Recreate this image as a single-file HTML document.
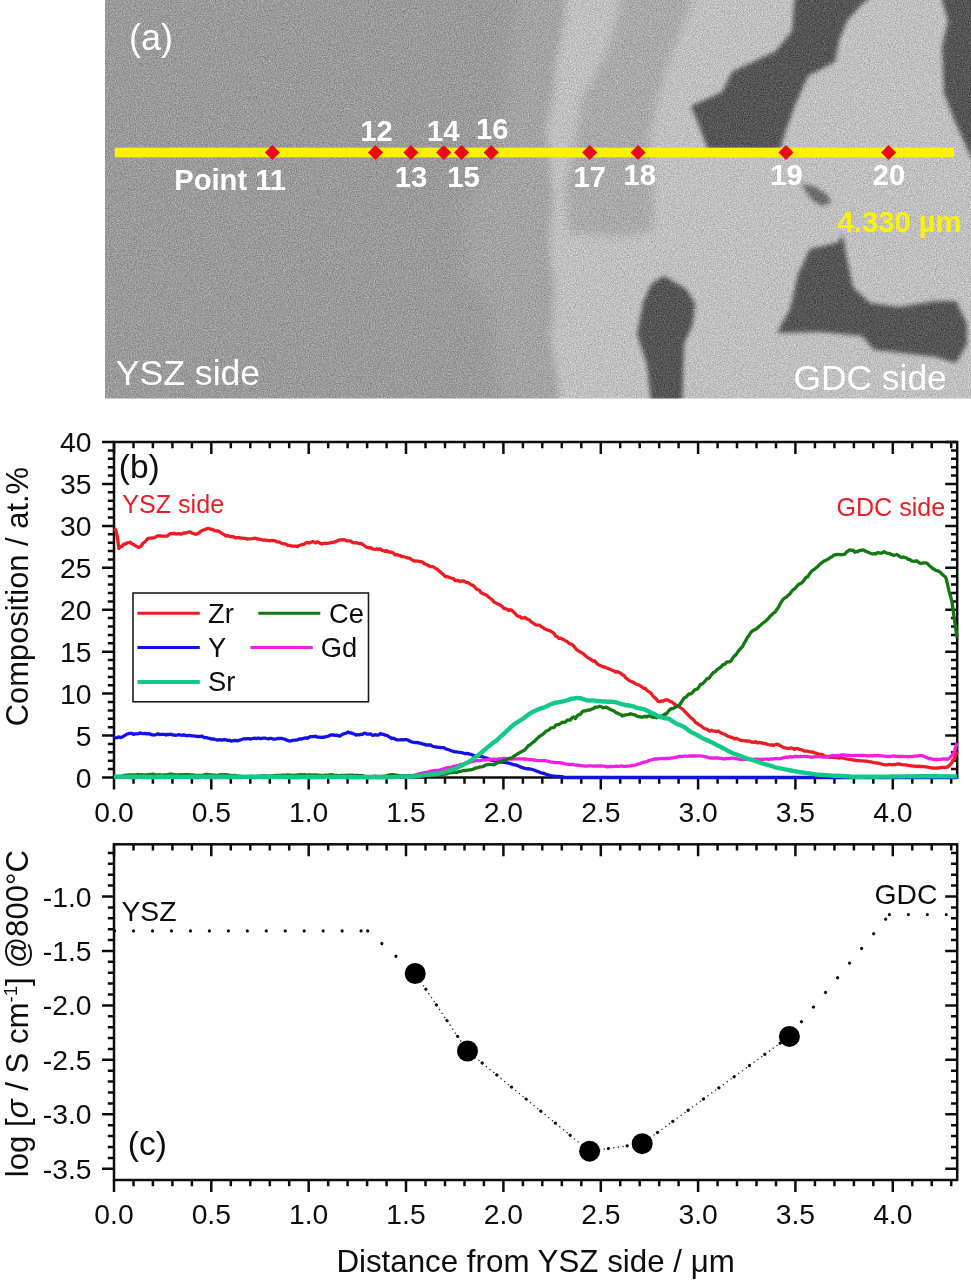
<!DOCTYPE html>
<html lang="en"><head><meta charset="utf-8"><title>Figure: line scan across YSZ/GDC interface</title>
<style>html,body{margin:0;padding:0;background:#fff}svg{display:block}text{font-family:"Liberation Sans", Arial, sans-serif}</style>
</head><body>
<svg width="971" height="1280" viewBox="0 0 971 1280">
<rect width="971" height="1280" fill="#fff"/>
<defs>
<filter id="sem" x="0" y="0" width="100%" height="100%" filterUnits="objectBoundingBox" color-interpolation-filters="sRGB"><feGaussianBlur in="SourceGraphic" stdDeviation="2.0" result="b"/><feTurbulence type="fractalNoise" baseFrequency="0.85" numOctaves="3" seed="4" result="n"/><feColorMatrix in="n" type="matrix" values="1 0 0 0 0 1 0 0 0 0 1 0 0 0 0 0 0 0 0 1" result="g"/><feComposite in="b" in2="g" operator="arithmetic" k1="0" k2="1" k3="0.40" k4="-0.20"/></filter>
<filter id="soft8" x="-20%" y="-20%" width="140%" height="140%"><feGaussianBlur stdDeviation="9"/></filter>
<filter id="soft4" x="-20%" y="-20%" width="140%" height="140%"><feGaussianBlur stdDeviation="4.5"/></filter>
<filter id="soft3" x="-20%" y="-20%" width="140%" height="140%"><feGaussianBlur stdDeviation="3"/></filter>
<clipPath id="semclip"><rect x="105.0" y="0.0" width="866.0" height="398.6"/></clipPath>
</defs>
<g clip-path="url(#semclip)">
<g filter="url(#sem)">
<rect x="85" y="-20" width="920" height="440" fill="#9a9a9a"/>
<g filter="url(#soft8)">
<polygon fill="#a3a3a3" points="515,-20 580,-20 570,100 565,150 565,230 570,300 570,420 498,420 490,300 465,282 462,200 490,170 505,100"/>
</g>
<g filter="url(#soft3)">
<polygon fill="#c0c0c0" points="568,-20 1000,-20 1000,420 560,420 557,380 551,340 554,290 549,240 553,200 549,160 546,130 552,100 556,62 562,30"/>
</g>
<g filter="url(#soft4)">
<polygon fill="#a9a9a9" points="624,-20 700,-20 678,37 668,64 658,99 648,148 653,187 653,232 610,236 568,232 566,190 574,148 582,99 602,62 616,25"/>
</g>
<polygon fill="#555555" points="796,-20 892,-20 862,4 847,21 839,41 835,62 808,76 796,103 786,130 781,147 779,150 708,150 700,128 691,106 722,92 732,72 776,51 792,31"/>
<polygon fill="#555555" points="940,-20 1000,-20 1000,190 971,157 956,124 944,93 942,47 948,21 942,0"/>
<polygon fill="#555555" points="843,235 846,254 853,287 870,303 899,307 936,301 956,301 967,324 967,344 956,363 936,357 895,352 874,350 862,336 822,332 777,333 790,309 798,274 810,249 837,243"/>
<polygon fill="#555555" points="664,276 686,289 695,303 693,324 684,344 682,420 653,420 647,365 637,334 643,303 651,284"/>
<polygon fill="#6a6a6a" points="802,183 815,187 828,195 831,203 822,206 812,200 806,192"/>
</g>
<rect x="114.8" y="147.7" width="839.2" height="9.6" fill="#fff200"/>
<polygon fill="#ea0c12" points="264.8,152.5 272.4,144.9 280.0,152.5 272.4,160.1"/>
<polygon fill="#ea0c12" points="367.9,152.5 375.5,144.9 383.1,152.5 375.5,160.1"/>
<polygon fill="#ea0c12" points="403.3,152.5 410.9,144.9 418.5,152.5 410.9,160.1"/>
<polygon fill="#ea0c12" points="436.1,152.5 443.7,144.9 451.3,152.5 443.7,160.1"/>
<polygon fill="#ea0c12" points="454.0,152.5 461.6,144.9 469.2,152.5 461.6,160.1"/>
<polygon fill="#ea0c12" points="483.6,152.5 491.2,144.9 498.8,152.5 491.2,160.1"/>
<polygon fill="#ea0c12" points="582.1,152.5 589.7,144.9 597.3,152.5 589.7,160.1"/>
<polygon fill="#ea0c12" points="630.5,152.5 638.1,144.9 645.7,152.5 638.1,160.1"/>
<polygon fill="#ea0c12" points="778.4,152.5 786.0,144.9 793.6,152.5 786.0,160.1"/>
<polygon fill="#ea0c12" points="881.0,152.5 888.6,144.9 896.2,152.5 888.6,160.1"/>
</g>
<text x="174.2" y="189.6" font-size="29.2" fill="#fff" text-anchor="start" font-weight="bold">Point 11</text>
<text x="376.4" y="141.2" font-size="29.2" fill="#fff" text-anchor="middle" font-weight="bold">12</text>
<text x="443.3" y="140.8" font-size="29.2" fill="#fff" text-anchor="middle" font-weight="bold">14</text>
<text x="492.2" y="139.2" font-size="29.2" fill="#fff" text-anchor="middle" font-weight="bold">16</text>
<text x="411.0" y="186.8" font-size="29.2" fill="#fff" text-anchor="middle" font-weight="bold">13</text>
<text x="463.5" y="186.8" font-size="29.2" fill="#fff" text-anchor="middle" font-weight="bold">15</text>
<text x="589.7" y="186.6" font-size="29.2" fill="#fff" text-anchor="middle" font-weight="bold">17</text>
<text x="639.7" y="184.6" font-size="29.2" fill="#fff" text-anchor="middle" font-weight="bold">18</text>
<text x="786.5" y="185.4" font-size="29.2" fill="#fff" text-anchor="middle" font-weight="bold">19</text>
<text x="889.0" y="185.4" font-size="29.2" fill="#fff" text-anchor="middle" font-weight="bold">20</text>
<text x="961.5" y="232.0" font-size="29.2" fill="#fff200" text-anchor="end" font-weight="bold">4.330 µm</text>
<text x="129.0" y="50.0" font-size="36.0" fill="#fff" text-anchor="start" font-weight="normal">(a)</text>
<text x="115.8" y="384.6" font-size="35.6" fill="#fff" text-anchor="start" font-weight="normal">YSZ side</text>
<text x="946.8" y="389.5" font-size="35.4" fill="#fff" text-anchor="end" font-weight="normal">GDC side</text>
<clipPath id="clipb"><rect x="112.0" y="442.0" width="847.2" height="338.5"/></clipPath>
<rect x="114.0" y="442.0" width="843.2" height="335.5" fill="none" stroke="#0d0d0d" stroke-width="2.5"/>
<path d="M114.0 777.5v12.0M114.0 442.0v12.0M133.5 777.5v6.2M133.5 442.0v6.2M152.9 777.5v6.2M152.9 442.0v6.2M172.4 777.5v6.2M172.4 442.0v6.2M191.9 777.5v6.2M191.9 442.0v6.2M211.3 777.5v12.0M211.3 442.0v12.0M230.8 777.5v6.2M230.8 442.0v6.2M250.3 777.5v6.2M250.3 442.0v6.2M269.8 777.5v6.2M269.8 442.0v6.2M289.2 777.5v6.2M289.2 442.0v6.2M308.7 777.5v12.0M308.7 442.0v12.0M328.2 777.5v6.2M328.2 442.0v6.2M347.6 777.5v6.2M347.6 442.0v6.2M367.1 777.5v6.2M367.1 442.0v6.2M386.6 777.5v6.2M386.6 442.0v6.2M406.0 777.5v12.0M406.0 442.0v12.0M425.5 777.5v6.2M425.5 442.0v6.2M445.0 777.5v6.2M445.0 442.0v6.2M464.5 777.5v6.2M464.5 442.0v6.2M483.9 777.5v6.2M483.9 442.0v6.2M503.4 777.5v12.0M503.4 442.0v12.0M522.9 777.5v6.2M522.9 442.0v6.2M542.3 777.5v6.2M542.3 442.0v6.2M561.8 777.5v6.2M561.8 442.0v6.2M581.3 777.5v6.2M581.3 442.0v6.2M600.8 777.5v12.0M600.8 442.0v12.0M620.2 777.5v6.2M620.2 442.0v6.2M639.7 777.5v6.2M639.7 442.0v6.2M659.2 777.5v6.2M659.2 442.0v6.2M678.6 777.5v6.2M678.6 442.0v6.2M698.1 777.5v12.0M698.1 442.0v12.0M717.6 777.5v6.2M717.6 442.0v6.2M737.0 777.5v6.2M737.0 442.0v6.2M756.5 777.5v6.2M756.5 442.0v6.2M776.0 777.5v6.2M776.0 442.0v6.2M795.4 777.5v12.0M795.4 442.0v12.0M814.9 777.5v6.2M814.9 442.0v6.2M834.4 777.5v6.2M834.4 442.0v6.2M853.9 777.5v6.2M853.9 442.0v6.2M873.3 777.5v6.2M873.3 442.0v6.2M892.8 777.5v12.0M892.8 442.0v12.0M912.3 777.5v6.2M912.3 442.0v6.2M931.7 777.5v6.2M931.7 442.0v6.2M951.2 777.5v6.2M951.2 442.0v6.2M114.0 777.5h-12.0M957.2 777.5h-12.0M114.0 735.6h-12.0M957.2 735.6h-12.0M114.0 693.6h-12.0M957.2 693.6h-12.0M114.0 651.7h-12.0M957.2 651.7h-12.0M114.0 609.8h-12.0M957.2 609.8h-12.0M114.0 567.8h-12.0M957.2 567.8h-12.0M114.0 525.9h-12.0M957.2 525.9h-12.0M114.0 483.9h-12.0M957.2 483.9h-12.0M114.0 442.0h-12.0M957.2 442.0h-12.0M114.0 769.1h-6.2M957.2 769.1h-6.2M114.0 760.7h-6.2M957.2 760.7h-6.2M114.0 752.3h-6.2M957.2 752.3h-6.2M114.0 744.0h-6.2M957.2 744.0h-6.2M114.0 727.2h-6.2M957.2 727.2h-6.2M114.0 718.8h-6.2M957.2 718.8h-6.2M114.0 710.4h-6.2M957.2 710.4h-6.2M114.0 702.0h-6.2M957.2 702.0h-6.2M114.0 685.2h-6.2M957.2 685.2h-6.2M114.0 676.9h-6.2M957.2 676.9h-6.2M114.0 668.5h-6.2M957.2 668.5h-6.2M114.0 660.1h-6.2M957.2 660.1h-6.2M114.0 643.3h-6.2M957.2 643.3h-6.2M114.0 634.9h-6.2M957.2 634.9h-6.2M114.0 626.5h-6.2M957.2 626.5h-6.2M114.0 618.1h-6.2M957.2 618.1h-6.2M114.0 601.4h-6.2M957.2 601.4h-6.2M114.0 593.0h-6.2M957.2 593.0h-6.2M114.0 584.6h-6.2M957.2 584.6h-6.2M114.0 576.2h-6.2M957.2 576.2h-6.2M114.0 559.4h-6.2M957.2 559.4h-6.2M114.0 551.0h-6.2M957.2 551.0h-6.2M114.0 542.7h-6.2M957.2 542.7h-6.2M114.0 534.3h-6.2M957.2 534.3h-6.2M114.0 517.5h-6.2M957.2 517.5h-6.2M114.0 509.1h-6.2M957.2 509.1h-6.2M114.0 500.7h-6.2M957.2 500.7h-6.2M114.0 492.3h-6.2M957.2 492.3h-6.2M114.0 475.6h-6.2M957.2 475.6h-6.2M114.0 467.2h-6.2M957.2 467.2h-6.2M114.0 458.8h-6.2M957.2 458.8h-6.2M114.0 450.4h-6.2M957.2 450.4h-6.2" fill="none" stroke="#0d0d0d" stroke-width="2.5"/>
<g clip-path="url(#clipb)" fill="none" stroke-linejoin="round" stroke-linecap="butt">
<path d="M114.0 528.6L115.6 529.8L117.2 535.9L118.9 548.5L120.5 546.5L122.1 546.3L123.7 544.1L125.4 544.0L127.0 543.0L128.6 542.7L130.2 542.2L131.9 543.8L133.5 544.4L135.1 545.6L136.7 546.4L138.4 547.3L140.0 547.0L141.6 545.5L143.2 543.0L144.9 541.8L146.5 540.0L148.1 538.4L149.7 538.1L151.4 538.1L153.0 537.9L154.6 537.7L156.2 536.5L157.9 535.9L159.5 535.9L161.1 536.0L162.7 536.2L164.4 536.1L166.0 536.1L167.6 535.9L169.2 534.3L170.9 533.6L172.5 533.6L174.1 533.3L175.7 533.9L177.4 533.9L179.0 533.5L180.6 534.1L182.2 533.8L183.8 532.9L185.5 533.1L187.1 532.5L188.7 532.0L190.3 531.8L192.0 533.2L193.6 533.5L195.2 534.2L196.8 534.0L198.5 533.3L200.1 531.9L201.7 530.7L203.3 529.9L205.0 529.6L206.6 528.8L208.2 528.4L209.8 528.8L211.5 529.3L213.1 529.8L214.7 530.7L216.3 531.0L218.0 530.9L219.6 531.9L221.2 533.0L222.8 533.9L224.5 534.9L226.1 536.2L227.7 535.6L229.3 536.3L231.0 536.5L232.6 536.6L234.2 537.1L235.8 537.9L237.5 537.5L239.1 537.6L240.7 538.1L242.3 538.1L244.0 538.4L245.6 538.3L247.2 539.0L248.8 538.8L250.4 538.8L252.1 538.7L253.7 538.4L255.3 538.2L256.9 538.8L258.6 539.0L260.2 539.3L261.8 539.8L263.4 540.2L265.1 540.0L266.7 540.4L268.3 540.4L269.9 540.8L271.6 540.3L273.2 540.6L274.8 540.6L276.4 541.8L278.1 541.8L279.7 542.2L281.3 543.2L282.9 543.8L284.6 543.7L286.2 544.3L287.8 545.3L289.4 545.3L291.1 546.0L292.7 546.2L294.3 546.2L295.9 546.1L297.6 546.7L299.2 545.3L300.8 545.0L302.4 544.4L304.1 544.4L305.7 542.8L307.3 542.4L308.9 543.1L310.5 542.6L312.2 541.7L313.8 541.8L315.4 543.0L317.0 541.7L318.7 542.5L320.3 543.4L321.9 543.9L323.5 543.5L325.2 543.2L326.8 543.5L328.4 543.1L330.0 542.8L331.7 542.3L333.3 542.4L334.9 541.9L336.5 541.4L338.2 540.4L339.8 540.0L341.4 539.8L343.0 539.6L344.7 539.9L346.3 540.8L347.9 540.8L349.5 540.8L351.2 541.4L352.8 542.7L354.4 542.9L356.0 542.7L357.7 543.0L359.3 543.6L360.9 543.3L362.5 544.2L364.2 545.5L365.8 546.7L367.4 547.4L369.0 547.8L370.7 547.6L372.3 548.9L373.9 549.2L375.5 549.4L377.1 548.9L378.8 549.5L380.4 548.9L382.0 550.3L383.6 550.7L385.3 551.4L386.9 550.6L388.5 552.0L390.1 551.9L391.8 552.3L393.4 553.1L395.0 554.9L396.6 554.7L398.3 555.1L399.9 555.5L401.5 556.5L403.1 556.5L404.8 557.0L406.4 557.4L408.0 558.1L409.6 558.2L411.3 559.4L412.9 560.4L414.5 561.0L416.1 560.9L417.8 561.2L419.4 561.3L421.0 561.7L422.6 562.0L424.3 563.8L425.9 564.2L427.5 565.0L429.1 566.0L430.8 566.6L432.4 566.6L434.0 567.3L435.6 568.5L437.3 569.2L438.9 570.8L440.5 572.1L442.1 573.6L443.7 574.8L445.4 576.8L447.0 576.5L448.6 577.0L450.2 577.7L451.9 578.3L453.5 578.6L455.1 580.7L456.7 580.5L458.4 580.5L460.0 581.5L461.6 581.1L463.2 580.9L464.9 581.5L466.5 582.7L468.1 582.5L469.7 583.7L471.4 585.0L473.0 585.2L474.6 586.9L476.2 588.8L477.9 589.8L479.5 590.3L481.1 592.8L482.7 593.5L484.4 594.4L486.0 594.8L487.6 596.0L489.2 597.5L490.9 598.8L492.5 600.0L494.1 602.3L495.7 602.8L497.4 603.9L499.0 604.5L500.6 605.3L502.2 606.4L503.9 608.5L505.5 608.5L507.1 609.4L508.7 610.5L510.3 609.7L512.0 610.4L513.6 612.1L515.2 613.5L516.8 615.5L518.5 616.4L520.1 616.7L521.7 618.2L523.3 618.0L525.0 617.3L526.6 618.9L528.2 619.5L529.8 620.3L531.5 622.1L533.1 623.0L534.7 624.2L536.3 625.1L538.0 625.1L539.6 625.1L541.2 626.6L542.8 627.2L544.5 628.7L546.1 629.4L547.7 630.1L549.3 630.6L551.0 631.3L552.6 632.3L554.2 633.7L555.8 636.3L557.5 636.9L559.1 638.5L560.7 638.1L562.3 639.1L564.0 639.7L565.6 640.9L567.2 641.6L568.8 643.2L570.4 643.9L572.1 644.5L573.7 646.0L575.3 648.1L576.9 649.8L578.6 651.0L580.2 651.9L581.8 652.9L583.4 653.8L585.1 655.5L586.7 656.8L588.3 657.9L589.9 658.9L591.6 660.0L593.2 661.0L594.8 661.0L596.4 663.0L598.1 664.6L599.7 665.2L601.3 666.0L602.9 666.8L604.6 667.0L606.2 667.8L607.8 668.3L609.4 669.1L611.1 669.7L612.7 670.7L614.3 670.9L615.9 672.3L617.6 671.5L619.2 672.6L620.8 673.3L622.4 674.7L624.1 675.5L625.7 677.8L627.3 678.9L628.9 680.4L630.6 681.3L632.2 681.9L633.8 682.5L635.4 683.7L637.0 684.5L638.7 684.8L640.3 685.8L641.9 686.9L643.5 688.3L645.2 688.4L646.8 690.3L648.4 691.3L650.0 692.3L651.7 694.0L653.3 696.7L654.9 697.7L656.5 699.4L658.2 701.4L659.8 701.7L661.4 700.9L663.0 701.1L664.7 700.2L666.3 699.8L667.9 700.0L669.5 701.1L671.2 701.7L672.8 702.6L674.4 704.2L676.0 705.2L677.7 705.7L679.3 706.8L680.9 708.0L682.5 709.1L684.2 710.9L685.8 712.5L687.4 714.2L689.0 715.8L690.7 717.6L692.3 718.8L693.9 720.2L695.5 722.5L697.2 723.4L698.8 724.7L700.4 725.4L702.0 726.6L703.6 728.1L705.3 728.8L706.9 729.2L708.5 730.4L710.1 731.2L711.8 730.2L713.4 731.1L715.0 731.1L716.6 731.6L718.3 731.0L719.9 732.2L721.5 733.2L723.1 733.8L724.8 734.1L726.4 735.5L728.0 736.3L729.6 736.7L731.3 737.4L732.9 737.9L734.5 738.8L736.1 738.4L737.8 739.0L739.4 739.7L741.0 740.6L742.6 740.5L744.3 740.8L745.9 740.7L747.5 741.3L749.1 740.8L750.8 742.0L752.4 742.0L754.0 742.4L755.6 741.6L757.3 742.9L758.9 742.4L760.5 742.9L762.1 742.8L763.8 743.7L765.4 743.4L767.0 744.3L768.6 744.7L770.2 745.0L771.9 744.8L773.5 745.6L775.1 744.8L776.7 744.2L778.4 744.4L780.0 745.8L781.6 746.3L783.2 747.4L784.9 747.9L786.5 748.1L788.1 748.3L789.7 748.4L791.4 747.9L793.0 748.6L794.6 749.4L796.2 748.5L797.9 748.6L799.5 749.4L801.1 749.7L802.7 750.1L804.4 751.1L806.0 751.2L807.6 751.2L809.2 751.6L810.9 752.0L812.5 752.0L814.1 752.6L815.7 753.2L817.4 753.7L819.0 754.1L820.6 754.3L822.2 754.5L823.9 755.7L825.5 756.5L827.1 756.5L828.7 757.1L830.3 757.3L832.0 757.4L833.6 757.1L835.2 757.7L836.8 757.5L838.5 758.0L840.1 757.8L841.7 757.9L843.3 758.0L845.0 758.5L846.6 758.9L848.2 759.2L849.8 759.4L851.5 759.6L853.1 760.0L854.7 760.2L856.3 760.6L858.0 760.7L859.6 760.7L861.2 760.8L862.8 760.9L864.5 761.1L866.1 761.2L867.7 761.4L869.3 761.7L871.0 761.9L872.6 762.3L874.2 762.8L875.8 762.8L877.5 763.0L879.1 763.4L880.7 763.8L882.3 764.3L884.0 764.7L885.6 764.8L887.2 764.8L888.8 764.5L890.5 764.7L892.1 764.9L893.7 764.5L895.3 764.6L896.9 764.2L898.6 764.0L900.2 764.1L901.8 764.7L903.4 764.8L905.1 764.9L906.7 765.0L908.3 765.4L909.9 765.7L911.6 765.9L913.2 766.1L914.8 766.2L916.4 766.5L918.1 766.2L919.7 766.5L921.3 766.5L922.9 766.6L924.6 766.7L926.2 767.0L927.8 767.2L929.4 767.5L931.1 767.8L932.7 768.0L934.3 768.2L935.9 768.2L937.6 768.0L939.2 767.8L940.8 767.5L942.4 767.3L944.1 767.4L945.7 767.5L947.3 767.2L948.9 765.7L950.6 764.2L952.2 762.0L953.8 759.6L955.4 755.7L957.1 751.4" stroke="#ec1c24" stroke-width="3.3"/>
<path d="M114.0 737.7L115.6 737.9L117.2 737.6L118.9 736.9L120.5 737.6L122.1 737.0L123.7 736.1L125.4 735.1L127.0 734.0L128.6 733.7L130.2 733.3L131.9 733.4L133.5 734.4L135.1 733.9L136.7 733.8L138.4 733.7L140.0 732.9L141.6 733.3L143.2 733.6L144.9 733.4L146.5 733.8L148.1 733.7L149.7 733.8L151.4 734.7L153.0 735.0L154.6 734.8L156.2 734.6L157.9 733.9L159.5 734.5L161.1 734.3L162.7 734.3L164.4 734.3L166.0 735.0L167.6 734.3L169.2 734.6L170.9 734.2L172.5 734.9L174.1 735.0L175.7 735.3L177.4 735.0L179.0 734.7L180.6 735.0L182.2 735.4L183.8 734.8L185.5 735.5L187.1 735.6L188.7 735.4L190.3 735.6L192.0 735.9L193.6 735.9L195.2 736.1L196.8 736.3L198.5 736.5L200.1 736.4L201.7 736.1L203.3 736.9L205.0 737.7L206.6 737.7L208.2 738.1L209.8 738.3L211.5 739.2L213.1 738.9L214.7 739.3L216.3 739.8L218.0 740.0L219.6 739.6L221.2 740.2L222.8 739.9L224.5 739.6L226.1 739.8L227.7 740.5L229.3 740.1L231.0 741.0L232.6 740.9L234.2 740.5L235.8 740.3L237.5 740.9L239.1 740.2L240.7 739.8L242.3 739.3L244.0 738.7L245.6 739.0L247.2 738.7L248.8 738.6L250.4 739.1L252.1 738.7L253.7 738.2L255.3 738.4L256.9 738.5L258.6 738.0L260.2 738.7L261.8 738.3L263.4 738.1L265.1 738.1L266.7 738.5L268.3 738.8L269.9 738.4L271.6 738.4L273.2 739.1L274.8 739.1L276.4 738.9L278.1 738.4L279.7 738.5L281.3 738.3L282.9 738.8L284.6 739.1L286.2 739.9L287.8 740.4L289.4 741.1L291.1 740.9L292.7 740.3L294.3 740.1L295.9 740.1L297.6 739.9L299.2 739.0L300.8 739.0L302.4 738.8L304.1 738.2L305.7 737.8L307.3 738.3L308.9 737.4L310.5 736.6L312.2 736.6L313.8 736.6L315.4 736.1L317.0 737.0L318.7 737.2L320.3 737.4L321.9 737.2L323.5 737.4L325.2 736.8L326.8 736.5L328.4 736.2L330.0 735.2L331.7 735.0L333.3 734.8L334.9 735.4L336.5 735.1L338.2 735.6L339.8 736.1L341.4 735.0L343.0 734.1L344.7 733.5L346.3 733.1L347.9 732.0L349.5 732.8L351.2 732.8L352.8 733.7L354.4 734.0L356.0 735.1L357.7 734.6L359.3 734.8L360.9 734.4L362.5 734.3L364.2 733.2L365.8 733.4L367.4 734.2L369.0 734.2L370.7 733.9L372.3 735.4L373.9 735.1L375.5 734.6L377.1 735.1L378.8 734.9L380.4 733.5L382.0 734.3L383.6 734.4L385.3 735.2L386.9 735.3L388.5 736.5L390.1 737.4L391.8 738.5L393.4 738.2L395.0 739.0L396.6 739.8L398.3 739.9L399.9 739.9L401.5 739.6L403.1 739.8L404.8 739.6L406.4 739.7L408.0 740.0L409.6 741.0L411.3 741.8L412.9 742.2L414.5 742.5L416.1 742.7L417.8 742.5L419.4 743.1L421.0 743.3L422.6 744.1L424.3 744.1L425.9 745.0L427.5 745.0L429.1 745.0L430.8 745.0L432.4 746.2L434.0 746.7L435.6 747.0L437.3 747.1L438.9 747.3L440.5 747.5L442.1 747.6L443.7 747.6L445.4 748.7L447.0 749.2L448.6 749.8L450.2 750.3L451.9 751.0L453.5 751.4L455.1 751.9L456.7 751.9L458.4 752.2L460.0 752.4L461.6 752.6L463.2 753.0L464.9 753.7L466.5 753.4L468.1 753.6L469.7 754.1L471.4 754.4L473.0 755.3L474.6 755.8L476.2 756.1L477.9 756.2L479.5 756.3L481.1 756.4L482.7 756.9L484.4 757.5L486.0 757.9L487.6 758.5L489.2 759.0L490.9 760.1L492.5 760.5L494.1 761.0L495.7 761.1L497.4 761.1L499.0 761.4L500.6 762.0L502.2 762.0L503.9 762.4L505.5 762.7L507.1 762.9L508.7 763.1L510.3 763.6L512.0 764.1L513.6 764.8L515.2 764.8L516.8 765.4L518.5 766.0L520.1 766.9L521.7 767.4L523.3 767.8L525.0 768.3L526.6 768.8L528.2 768.7L529.8 769.1L531.5 769.2L533.1 769.7L534.7 770.2L536.3 771.0L538.0 771.6L539.6 772.3L541.2 772.9L542.8 773.1L544.5 773.6L546.1 774.2L547.7 774.7L549.3 775.3L551.0 775.7L552.6 776.0L554.2 776.2L555.8 776.5L557.5 776.5L559.1 776.4L560.7 776.6L562.3 776.6L564.0 777.5L565.6 777.5L567.2 777.5L568.8 777.5L570.4 777.5L572.1 777.5L573.7 777.5L575.3 777.5L576.9 777.5L578.6 777.5L580.2 777.5L581.8 777.5L583.4 777.5L585.1 777.5L586.7 777.5L588.3 777.5L589.9 777.5L591.6 777.5L593.2 777.5L594.8 777.5L596.4 777.5L598.1 777.5L599.7 777.5L601.3 777.5L602.9 777.5L604.6 777.5L606.2 777.5L607.8 777.5L609.4 777.5L611.1 777.5L612.7 777.5L614.3 777.5L615.9 777.5L617.6 777.5L619.2 777.5L620.8 777.5L622.4 777.5L624.1 777.5L625.7 777.5L627.3 777.5L628.9 777.5L630.6 777.5L632.2 777.5L633.8 777.5L635.4 777.5L637.0 777.5L638.7 777.5L640.3 777.5L641.9 777.5L643.5 777.5L645.2 777.5L646.8 777.5L648.4 777.5L650.0 777.5L651.7 777.5L653.3 777.5L654.9 777.5L656.5 777.5L658.2 777.5L659.8 777.5L661.4 777.5L663.0 777.5L664.7 777.5L666.3 777.5L667.9 777.5L669.5 777.5L671.2 777.5L672.8 777.5L674.4 777.5L676.0 777.5L677.7 777.5L679.3 777.5L680.9 777.5L682.5 777.5L684.2 777.5L685.8 777.5L687.4 777.5L689.0 777.5L690.7 777.5L692.3 777.5L693.9 777.5L695.5 777.5L697.2 777.5L698.8 777.5L700.4 777.5L702.0 777.5L703.6 777.5L705.3 777.5L706.9 777.5L708.5 777.5L710.1 777.5L711.8 777.5L713.4 777.5L715.0 777.5L716.6 777.5L718.3 777.5L719.9 777.5L721.5 777.5L723.1 777.5L724.8 777.5L726.4 777.5L728.0 777.5L729.6 777.5L731.3 777.5L732.9 777.5L734.5 777.5L736.1 777.5L737.8 777.5L739.4 777.5L741.0 777.5L742.6 777.5L744.3 777.5L745.9 777.5L747.5 777.5L749.1 777.5L750.8 777.5L752.4 777.5L754.0 777.5L755.6 777.5L757.3 777.5L758.9 777.5L760.5 777.5L762.1 777.5L763.8 777.5L765.4 777.5L767.0 777.5L768.6 777.5L770.2 777.5L771.9 777.5L773.5 777.5L775.1 777.5L776.7 777.5L778.4 777.5L780.0 777.5L781.6 777.5L783.2 777.5L784.9 777.5L786.5 777.5L788.1 777.5L789.7 777.5L791.4 777.5L793.0 777.5L794.6 777.5L796.2 777.5L797.9 777.5L799.5 777.5L801.1 777.5L802.7 777.5L804.4 777.5L806.0 777.5L807.6 777.5L809.2 777.5L810.9 777.5L812.5 777.5L814.1 777.5L815.7 777.5L817.4 777.5L819.0 777.5L820.6 777.5L822.2 777.5L823.9 777.5L825.5 777.5L827.1 777.5L828.7 777.5L830.3 777.5L832.0 777.5L833.6 777.5L835.2 777.5L836.8 777.5L838.5 777.5L840.1 777.5L841.7 777.5L843.3 777.5L845.0 777.5L846.6 777.5L848.2 777.5L849.8 777.5L851.5 777.5L853.1 777.5L854.7 777.5L856.3 777.5L858.0 777.5L859.6 777.5L861.2 777.5L862.8 777.5L864.5 777.5L866.1 777.5L867.7 777.5L869.3 777.5L871.0 777.5L872.6 777.5L874.2 777.5L875.8 777.5L877.5 777.5L879.1 777.5L880.7 777.5L882.3 777.5L884.0 777.5L885.6 777.5L887.2 777.5L888.8 777.5L890.5 777.5L892.1 777.5L893.7 777.5L895.3 777.5L896.9 777.5L898.6 777.5L900.2 777.5L901.8 777.5L903.4 777.5L905.1 777.5L906.7 777.5L908.3 777.5L909.9 777.5L911.6 777.5L913.2 777.5L914.8 777.5L916.4 777.5L918.1 777.5L919.7 777.5L921.3 777.5L922.9 777.5L924.6 777.5L926.2 777.5L927.8 777.5L929.4 777.5L931.1 777.5L932.7 777.5L934.3 777.5L935.9 777.5L937.6 777.5L939.2 777.5L940.8 777.5L942.4 777.5L944.1 777.5L945.7 777.5L947.3 777.5L948.9 777.5L950.6 777.5L952.2 777.5L953.8 777.5L955.4 777.5L957.1 777.5" stroke="#1212e8" stroke-width="3.3"/>
<path d="M114.0 777.1L115.6 777.0L117.2 777.1L118.9 777.3L120.5 777.3L122.1 777.3L123.7 777.5L125.4 777.4L127.0 777.4L128.6 777.4L130.2 777.5L131.9 777.5L133.5 777.5L135.1 777.3L136.7 777.5L138.4 777.4L140.0 777.4L141.6 777.5L143.2 777.5L144.9 777.5L146.5 777.5L148.1 777.5L149.7 777.5L151.4 777.5L153.0 777.5L154.6 777.5L156.2 777.5L157.9 777.5L159.5 777.5L161.1 777.5L162.7 777.5L164.4 777.5L166.0 777.5L167.6 777.3L169.2 777.3L170.9 777.2L172.5 777.3L174.1 777.3L175.7 777.4L177.4 777.3L179.0 777.4L180.6 777.3L182.2 777.1L183.8 777.2L185.5 777.2L187.1 777.2L188.7 777.2L190.3 777.2L192.0 777.4L193.6 777.5L195.2 777.5L196.8 777.5L198.5 777.5L200.1 777.5L201.7 777.4L203.3 777.4L205.0 777.5L206.6 777.5L208.2 777.5L209.8 777.5L211.5 777.5L213.1 777.5L214.7 777.5L216.3 777.5L218.0 777.5L219.6 777.5L221.2 777.5L222.8 777.5L224.5 777.5L226.1 777.5L227.7 777.5L229.3 777.5L231.0 777.5L232.6 777.5L234.2 777.5L235.8 777.5L237.5 777.5L239.1 777.5L240.7 777.5L242.3 777.3L244.0 777.2L245.6 777.2L247.2 777.4L248.8 777.4L250.4 777.4L252.1 777.5L253.7 777.5L255.3 777.5L256.9 777.4L258.6 777.4L260.2 777.4L261.8 777.5L263.4 777.5L265.1 777.5L266.7 777.5L268.3 777.4L269.9 777.4L271.6 777.3L273.2 777.4L274.8 777.4L276.4 777.4L278.1 777.4L279.7 777.5L281.3 777.1L282.9 777.3L284.6 777.3L286.2 777.3L287.8 777.3L289.4 777.4L291.1 777.4L292.7 777.5L294.3 777.5L295.9 777.5L297.6 777.5L299.2 777.5L300.8 777.5L302.4 777.3L304.1 777.3L305.7 777.5L307.3 777.5L308.9 777.5L310.5 777.5L312.2 777.5L313.8 777.5L315.4 777.5L317.0 777.5L318.7 777.5L320.3 777.5L321.9 777.5L323.5 777.5L325.2 777.5L326.8 777.4L328.4 777.2L330.0 777.1L331.7 776.9L333.3 776.9L334.9 776.9L336.5 777.0L338.2 776.9L339.8 777.1L341.4 777.4L343.0 777.4L344.7 777.5L346.3 777.5L347.9 777.5L349.5 777.5L351.2 777.5L352.8 777.5L354.4 777.5L356.0 777.5L357.7 777.5L359.3 777.5L360.9 777.3L362.5 777.3L364.2 777.4L365.8 777.4L367.4 777.5L369.0 777.5L370.7 777.5L372.3 777.3L373.9 777.3L375.5 777.2L377.1 777.2L378.8 777.2L380.4 777.2L382.0 777.1L383.6 777.0L385.3 777.1L386.9 776.9L388.5 776.8L390.1 776.5L391.8 776.5L393.4 776.4L395.0 776.6L396.6 776.5L398.3 776.6L399.9 776.4L401.5 776.4L403.1 776.1L404.8 776.1L406.4 776.1L408.0 776.1L409.6 775.8L411.3 775.6L412.9 775.4L414.5 775.1L416.1 774.7L417.8 774.2L419.4 773.8L421.0 773.3L422.6 773.0L424.3 772.6L425.9 772.3L427.5 772.1L429.1 771.7L430.8 771.2L432.4 771.0L434.0 770.7L435.6 770.4L437.3 770.5L438.9 770.2L440.5 769.9L442.1 769.3L443.7 768.9L445.4 768.3L447.0 767.8L448.6 767.5L450.2 767.3L451.9 767.0L453.5 766.4L455.1 766.2L456.7 765.7L458.4 765.5L460.0 764.7L461.6 764.3L463.2 764.0L464.9 763.5L466.5 763.0L468.1 762.9L469.7 762.3L471.4 761.6L473.0 761.3L474.6 761.0L476.2 760.7L477.9 760.7L479.5 760.6L481.1 760.3L482.7 760.2L484.4 760.1L486.0 759.9L487.6 759.7L489.2 759.5L490.9 759.6L492.5 759.1L494.1 759.1L495.7 759.3L497.4 759.3L499.0 758.8L500.6 759.0L502.2 758.7L503.9 758.4L505.5 758.5L507.1 758.8L508.7 758.9L510.3 759.0L512.0 759.1L513.6 759.1L515.2 758.8L516.8 758.8L518.5 758.9L520.1 758.9L521.7 758.8L523.3 759.0L525.0 759.0L526.6 759.2L528.2 759.5L529.8 759.7L531.5 759.7L533.1 760.0L534.7 760.0L536.3 760.4L538.0 760.7L539.6 760.7L541.2 760.6L542.8 760.6L544.5 760.7L546.1 760.9L547.7 761.1L549.3 761.7L551.0 762.1L552.6 762.1L554.2 762.5L555.8 762.7L557.5 762.6L559.1 762.7L560.7 763.0L562.3 763.0L564.0 763.7L565.6 764.0L567.2 764.2L568.8 764.3L570.4 764.3L572.1 764.4L573.7 764.5L575.3 765.2L576.9 765.0L578.6 765.4L580.2 765.5L581.8 765.9L583.4 765.8L585.1 766.0L586.7 766.1L588.3 765.9L589.9 765.8L591.6 765.8L593.2 766.2L594.8 766.2L596.4 766.0L598.1 765.9L599.7 766.0L601.3 766.0L602.9 766.1L604.6 766.2L606.2 766.6L607.8 766.8L609.4 766.5L611.1 766.4L612.7 766.6L614.3 766.3L615.9 766.1L617.6 766.3L619.2 766.3L620.8 766.0L622.4 766.1L624.1 766.3L625.7 766.4L627.3 766.1L628.9 766.2L630.6 765.9L632.2 765.4L633.8 765.4L635.4 765.2L637.0 764.5L638.7 763.9L640.3 763.6L641.9 762.8L643.5 762.2L645.2 762.0L646.8 761.7L648.4 760.8L650.0 760.2L651.7 759.9L653.3 759.3L654.9 758.9L656.5 759.0L658.2 758.8L659.8 758.6L661.4 758.6L663.0 758.5L664.7 758.6L666.3 758.4L667.9 758.5L669.5 758.3L671.2 758.0L672.8 757.8L674.4 757.5L676.0 757.4L677.7 756.8L679.3 756.5L680.9 756.3L682.5 756.4L684.2 756.1L685.8 756.1L687.4 756.3L689.0 756.0L690.7 756.0L692.3 755.9L693.9 756.0L695.5 756.0L697.2 755.8L698.8 755.9L700.4 755.9L702.0 756.2L703.6 756.4L705.3 756.8L706.9 756.9L708.5 757.6L710.1 758.0L711.8 757.8L713.4 758.1L715.0 758.0L716.6 757.9L718.3 758.1L719.9 758.3L721.5 758.4L723.1 758.9L724.8 758.9L726.4 758.4L728.0 758.7L729.6 758.6L731.3 758.2L732.9 758.2L734.5 758.5L736.1 758.6L737.8 759.0L739.4 759.4L741.0 759.3L742.6 759.6L744.3 759.4L745.9 759.1L747.5 759.3L749.1 759.6L750.8 759.2L752.4 759.5L754.0 759.4L755.6 759.1L757.3 759.2L758.9 759.5L760.5 759.3L762.1 759.4L763.8 759.3L765.4 759.1L767.0 759.2L768.6 759.3L770.2 759.0L771.9 759.0L773.5 758.8L775.1 758.7L776.7 758.7L778.4 758.8L780.0 758.6L781.6 758.5L783.2 757.8L784.9 757.4L786.5 757.1L788.1 757.3L789.7 756.7L791.4 757.0L793.0 757.0L794.6 756.5L796.2 756.3L797.9 756.7L799.5 756.6L801.1 756.5L802.7 756.6L804.4 756.3L806.0 756.4L807.6 756.7L809.2 756.8L810.9 757.1L812.5 757.2L814.1 756.7L815.7 756.8L817.4 756.6L819.0 756.6L820.6 756.6L822.2 757.1L823.9 757.0L825.5 757.1L827.1 756.6L828.7 756.3L830.3 756.0L832.0 755.7L833.6 755.4L835.2 755.6L836.8 755.5L838.5 755.3L840.1 755.3L841.7 754.9L843.3 754.9L845.0 755.0L846.6 755.3L848.2 755.2L849.8 755.5L851.5 755.7L853.1 755.6L854.7 755.3L856.3 755.3L858.0 755.4L859.6 755.5L861.2 755.4L862.8 755.5L864.5 755.3L866.1 755.8L867.7 755.7L869.3 755.9L871.0 755.7L872.6 755.9L874.2 755.5L875.8 755.7L877.5 755.5L879.1 755.7L880.7 755.9L882.3 755.9L884.0 756.0L885.6 756.3L887.2 756.5L888.8 756.3L890.5 756.5L892.1 756.1L893.7 755.9L895.3 756.1L896.9 756.4L898.6 756.5L900.2 756.4L901.8 756.5L903.4 756.5L905.1 756.6L906.7 756.5L908.3 756.8L909.9 756.4L911.6 756.6L913.2 756.3L914.8 756.1L916.4 755.9L918.1 756.1L919.7 755.7L921.3 755.7L922.9 755.9L924.6 756.6L926.2 757.2L927.8 758.1L929.4 758.5L931.1 758.7L932.7 759.2L934.3 759.6L935.9 759.4L937.6 759.5L939.2 759.4L940.8 759.3L942.4 759.0L944.1 759.0L945.7 759.0L947.3 759.3L948.9 758.6L950.6 757.1L952.2 755.0L953.8 753.2L955.4 748.2L957.1 742.7" stroke="#f01fe4" stroke-width="3.3"/>
<path d="M114.0 777.1L115.6 777.0L117.2 776.9L118.9 776.5L120.5 776.3L122.1 776.0L123.7 775.6L125.4 775.2L127.0 775.1L128.6 775.0L130.2 774.9L131.9 774.9L133.5 774.9L135.1 774.8L136.7 774.7L138.4 774.5L140.0 774.8L141.6 774.7L143.2 774.8L144.9 775.1L146.5 774.8L148.1 774.7L149.7 774.4L151.4 774.6L153.0 774.1L154.6 774.7L156.2 774.8L157.9 775.0L159.5 774.7L161.1 775.1L162.7 775.2L164.4 774.9L166.0 774.8L167.6 774.8L169.2 774.3L170.9 774.0L172.5 774.3L174.1 774.6L175.7 774.9L177.4 774.8L179.0 774.8L180.6 774.7L182.2 774.9L183.8 774.7L185.5 774.7L187.1 774.6L188.7 774.6L190.3 774.8L192.0 774.9L193.6 775.0L195.2 775.3L196.8 775.4L198.5 775.3L200.1 775.3L201.7 775.5L203.3 775.2L205.0 774.7L206.6 774.4L208.2 774.5L209.8 774.8L211.5 774.8L213.1 775.2L214.7 775.1L216.3 775.4L218.0 775.2L219.6 774.9L221.2 774.6L222.8 774.9L224.5 774.7L226.1 774.7L227.7 775.0L229.3 775.1L231.0 775.4L232.6 775.6L234.2 775.4L235.8 775.7L237.5 776.0L239.1 776.1L240.7 776.4L242.3 776.8L244.0 777.0L245.6 776.6L247.2 776.6L248.8 776.5L250.4 776.3L252.1 776.2L253.7 776.6L255.3 776.5L256.9 776.2L258.6 776.3L260.2 776.1L261.8 775.9L263.4 776.0L265.1 776.0L266.7 776.0L268.3 776.1L269.9 776.1L271.6 775.8L273.2 775.7L274.8 775.6L276.4 775.3L278.1 775.4L279.7 775.3L281.3 775.3L282.9 775.2L284.6 775.4L286.2 775.2L287.8 775.0L289.4 775.1L291.1 775.1L292.7 775.3L294.3 775.3L295.9 775.1L297.6 775.0L299.2 774.8L300.8 774.7L302.4 774.8L304.1 774.7L305.7 774.8L307.3 775.1L308.9 774.9L310.5 774.8L312.2 775.1L313.8 774.9L315.4 774.9L317.0 775.2L318.7 775.2L320.3 775.4L321.9 775.5L323.5 775.6L325.2 775.1L326.8 775.2L328.4 775.1L330.0 774.8L331.7 774.7L333.3 775.0L334.9 775.3L336.5 775.4L338.2 775.7L339.8 775.7L341.4 775.5L343.0 775.5L344.7 775.4L346.3 775.4L347.9 775.2L349.5 775.1L351.2 775.1L352.8 775.1L354.4 775.3L356.0 775.4L357.7 775.5L359.3 775.7L360.9 775.6L362.5 775.6L364.2 776.1L365.8 776.4L367.4 776.4L369.0 776.3L370.7 776.4L372.3 776.3L373.9 776.2L375.5 776.2L377.1 776.3L378.8 776.3L380.4 776.3L382.0 776.4L383.6 776.1L385.3 776.2L386.9 775.5L388.5 775.2L390.1 774.7L391.8 774.7L393.4 774.7L395.0 775.0L396.6 775.2L398.3 775.7L399.9 775.7L401.5 775.9L403.1 775.9L404.8 775.8L406.4 775.8L408.0 775.8L409.6 775.9L411.3 776.0L412.9 775.7L414.5 775.8L416.1 775.8L417.8 775.5L419.4 775.2L421.0 775.4L422.6 775.1L424.3 775.0L425.9 774.9L427.5 774.9L429.1 774.9L430.8 774.9L432.4 774.9L434.0 774.9L435.6 774.9L437.3 774.6L438.9 774.6L440.5 774.7L442.1 774.6L443.7 774.2L445.4 774.2L447.0 773.8L448.6 773.0L450.2 772.7L451.9 772.7L453.5 772.4L455.1 772.3L456.7 772.4L458.4 771.7L460.0 771.7L461.6 771.0L463.2 770.6L464.9 770.3L466.5 770.5L468.1 770.1L469.7 769.9L471.4 769.8L473.0 769.2L474.6 768.4L476.2 767.9L477.9 767.7L479.5 767.0L481.1 766.8L482.7 766.7L484.4 765.8L486.0 764.9L487.6 764.7L489.2 764.4L490.9 764.4L492.5 764.6L494.1 764.8L495.7 763.8L497.4 762.9L499.0 762.4L500.6 762.0L502.2 760.9L503.9 760.4L505.5 760.3L507.1 759.3L508.7 758.5L510.3 758.1L512.0 757.9L513.6 756.4L515.2 755.4L516.8 754.4L518.5 753.3L520.1 752.6L521.7 751.5L523.3 750.8L525.0 749.6L526.6 747.9L528.2 745.8L529.8 745.0L531.5 743.6L533.1 742.3L534.7 741.1L536.3 739.3L538.0 737.8L539.6 736.3L541.2 735.3L542.8 734.4L544.5 732.8L546.1 731.0L547.7 730.7L549.3 729.5L551.0 727.9L552.6 727.7L554.2 727.4L555.8 725.1L557.5 724.7L559.1 724.4L560.7 723.4L562.3 722.2L564.0 722.6L565.6 721.9L567.2 720.2L568.8 719.9L570.4 720.1L572.1 717.7L573.7 716.9L575.3 718.5L576.9 716.2L578.6 714.6L580.2 714.6L581.8 712.3L583.4 711.0L585.1 711.0L586.7 710.6L588.3 709.9L589.9 710.1L591.6 709.1L593.2 708.7L594.8 707.2L596.4 707.1L598.1 707.1L599.7 706.2L601.3 706.7L602.9 707.9L604.6 707.5L606.2 707.1L607.8 708.1L609.4 708.9L611.1 709.7L612.7 710.5L614.3 711.1L615.9 712.7L617.6 713.2L619.2 714.2L620.8 714.3L622.4 716.1L624.1 715.2L625.7 715.0L627.3 714.7L628.9 714.4L630.6 713.7L632.2 714.3L633.8 714.9L635.4 714.8L637.0 716.4L638.7 716.6L640.3 716.9L641.9 717.2L643.5 716.9L645.2 716.2L646.8 717.0L648.4 715.8L650.0 716.2L651.7 716.7L653.3 717.4L654.9 716.8L656.5 717.7L658.2 716.1L659.8 717.2L661.4 716.4L663.0 715.4L664.7 714.0L666.3 714.0L667.9 711.8L669.5 709.9L671.2 708.7L672.8 708.6L674.4 707.7L676.0 707.0L677.7 706.3L679.3 705.3L680.9 703.0L682.5 700.3L684.2 698.1L685.8 697.3L687.4 695.5L689.0 694.0L690.7 693.9L692.3 692.8L693.9 690.7L695.5 689.3L697.2 689.1L698.8 687.2L700.4 684.4L702.0 684.1L703.6 682.8L705.3 680.7L706.9 678.7L708.5 678.7L710.1 676.9L711.8 674.4L713.4 672.6L715.0 672.0L716.6 669.9L718.3 669.0L719.9 667.7L721.5 666.4L723.1 664.6L724.8 664.3L726.4 662.4L728.0 661.9L729.6 661.9L731.3 660.6L732.9 657.8L734.5 655.9L736.1 654.6L737.8 651.8L739.4 649.9L741.0 648.1L742.6 646.5L744.3 643.1L745.9 640.2L747.5 637.4L749.1 635.4L750.8 632.5L752.4 630.9L754.0 630.0L755.6 629.4L757.3 628.0L758.9 626.5L760.5 625.3L762.1 623.7L763.8 622.4L765.4 621.2L767.0 619.7L768.6 618.2L770.2 616.0L771.9 614.8L773.5 613.2L775.1 612.2L776.7 609.6L778.4 607.4L780.0 604.2L781.6 601.7L783.2 599.2L784.9 597.9L786.5 597.0L788.1 595.4L789.7 594.1L791.4 591.7L793.0 589.8L794.6 588.8L796.2 587.3L797.9 585.0L799.5 583.9L801.1 583.4L802.7 581.9L804.4 579.8L806.0 577.3L807.6 576.9L809.2 574.4L810.9 572.0L812.5 570.4L814.1 569.6L815.7 568.1L817.4 566.8L819.0 565.1L820.6 563.8L822.2 562.5L823.9 561.1L825.5 560.6L827.1 559.5L828.7 558.9L830.3 557.4L832.0 556.8L833.6 555.2L835.2 555.0L836.8 554.4L838.5 554.6L840.1 554.5L841.7 554.9L843.3 554.3L845.0 554.1L846.6 552.0L848.2 551.0L849.8 549.8L851.5 550.3L853.1 550.2L854.7 552.3L856.3 551.5L858.0 551.6L859.6 550.3L861.2 550.4L862.8 549.8L864.5 550.5L866.1 551.5L867.7 552.0L869.3 552.8L871.0 553.5L872.6 553.9L874.2 553.7L875.8 554.0L877.5 552.5L879.1 552.8L880.7 553.2L882.3 552.8L884.0 551.6L885.6 552.5L887.2 553.2L888.8 553.3L890.5 554.1L892.1 554.6L893.7 555.5L895.3 555.0L896.9 554.5L898.6 555.7L900.2 557.0L901.8 557.4L903.4 557.0L905.1 557.7L906.7 558.0L908.3 559.4L909.9 559.5L911.6 560.9L913.2 561.1L914.8 561.3L916.4 560.7L918.1 561.9L919.7 563.1L921.3 563.4L922.9 563.0L924.6 562.9L926.2 562.8L927.8 563.8L929.4 565.7L931.1 567.0L932.7 568.5L934.3 569.3L935.9 570.4L937.6 570.8L939.2 571.6L940.8 572.7L942.4 574.6L944.1 576.0L945.7 577.3L947.3 583.2L948.9 590.6L950.6 596.5L952.2 603.2L953.8 615.3L955.4 626.7L957.1 637.7" stroke="#12780f" stroke-width="3.3"/>
<path d="M114.0 776.6L115.6 776.6L117.2 776.7L118.9 776.7L120.5 776.7L122.1 776.6L123.7 776.7L125.4 776.6L127.0 776.6L128.6 776.6L130.2 776.6L131.9 776.6L133.5 776.6L135.1 776.8L136.7 776.8L138.4 776.9L140.0 776.9L141.6 776.9L143.2 776.8L144.9 776.9L146.5 776.9L148.1 776.9L149.7 776.9L151.4 776.9L153.0 776.9L154.6 776.9L156.2 776.8L157.9 776.8L159.5 776.8L161.1 776.7L162.7 776.8L164.4 776.9L166.0 777.0L167.6 776.9L169.2 776.8L170.9 776.8L172.5 776.8L174.1 776.8L175.7 776.7L177.4 776.8L179.0 776.9L180.6 776.9L182.2 776.9L183.8 776.9L185.5 776.9L187.1 776.9L188.7 776.8L190.3 776.8L192.0 776.8L193.6 776.7L195.2 776.6L196.8 776.6L198.5 776.6L200.1 776.7L201.7 776.8L203.3 776.9L205.0 776.8L206.6 776.8L208.2 776.7L209.8 776.6L211.5 776.6L213.1 776.6L214.7 776.6L216.3 776.6L218.0 776.7L219.6 776.7L221.2 776.7L222.8 776.7L224.5 776.7L226.1 776.6L227.7 776.7L229.3 776.6L231.0 776.6L232.6 776.7L234.2 776.8L235.8 776.7L237.5 776.8L239.1 776.8L240.7 776.8L242.3 776.8L244.0 776.8L245.6 776.7L247.2 776.7L248.8 776.8L250.4 776.9L252.1 776.9L253.7 776.9L255.3 777.0L256.9 777.0L258.6 776.9L260.2 776.8L261.8 776.9L263.4 776.8L265.1 776.9L266.7 776.9L268.3 776.9L269.9 776.8L271.6 776.9L273.2 776.8L274.8 776.8L276.4 776.9L278.1 776.9L279.7 776.8L281.3 776.9L282.9 776.9L284.6 777.0L286.2 777.0L287.8 777.0L289.4 777.0L291.1 777.0L292.7 777.0L294.3 777.0L295.9 777.0L297.6 776.9L299.2 777.0L300.8 776.9L302.4 776.9L304.1 777.0L305.7 777.0L307.3 777.0L308.9 777.0L310.5 777.0L312.2 777.0L313.8 777.0L315.4 776.9L317.0 776.9L318.7 776.9L320.3 776.9L321.9 776.9L323.5 776.9L325.2 776.9L326.8 776.9L328.4 776.9L330.0 776.9L331.7 776.9L333.3 777.0L334.9 776.9L336.5 776.9L338.2 776.9L339.8 776.9L341.4 776.9L343.0 776.8L344.7 776.9L346.3 776.9L347.9 776.9L349.5 776.9L351.2 776.9L352.8 776.9L354.4 777.0L356.0 777.1L357.7 777.1L359.3 777.1L360.9 777.1L362.5 777.1L364.2 777.1L365.8 777.2L367.4 777.2L369.0 777.1L370.7 777.1L372.3 777.2L373.9 777.1L375.5 777.1L377.1 777.2L378.8 777.2L380.4 777.1L382.0 777.2L383.6 777.2L385.3 777.1L386.9 777.2L388.5 777.1L390.1 777.1L391.8 777.1L393.4 777.1L395.0 777.0L396.6 777.0L398.3 776.9L399.9 776.8L401.5 776.6L403.1 776.6L404.8 776.6L406.4 776.7L408.0 776.7L409.6 776.7L411.3 776.6L412.9 776.4L414.5 776.2L416.1 776.0L417.8 775.9L419.4 775.7L421.0 775.6L422.6 775.4L424.3 775.2L425.9 774.9L427.5 774.7L429.1 774.6L430.8 774.4L432.4 774.2L434.0 774.1L435.6 774.0L437.3 773.8L438.9 773.5L440.5 773.2L442.1 772.7L443.7 772.3L445.4 771.8L447.0 771.4L448.6 770.9L450.2 770.3L451.9 769.8L453.5 769.2L455.1 768.6L456.7 767.9L458.4 767.1L460.0 766.3L461.6 765.5L463.2 764.7L464.9 763.8L466.5 763.1L468.1 762.3L469.7 761.2L471.4 760.1L473.0 759.0L474.6 758.0L476.2 756.7L477.9 755.5L479.5 754.1L481.1 752.9L482.7 751.4L484.4 750.1L486.0 748.8L487.6 747.2L489.2 746.0L490.9 744.7L492.5 743.3L494.1 742.0L495.7 741.2L497.4 739.8L499.0 738.2L500.6 736.6L502.2 735.3L503.9 733.7L505.5 732.1L507.1 730.7L508.7 729.1L510.3 727.6L512.0 726.1L513.6 724.7L515.2 723.7L516.8 722.7L518.5 721.5L520.1 720.4L521.7 719.6L523.3 718.4L525.0 717.3L526.6 716.0L528.2 714.7L529.8 713.7L531.5 712.6L533.1 711.6L534.7 711.1L536.3 710.3L538.0 709.3L539.6 709.1L541.2 708.2L542.8 707.8L544.5 707.3L546.1 706.6L547.7 705.8L549.3 705.0L551.0 704.3L552.6 703.6L554.2 703.2L555.8 702.5L557.5 702.6L559.1 702.0L560.7 702.0L562.3 701.5L564.0 701.2L565.6 700.6L567.2 700.3L568.8 699.7L570.4 699.0L572.1 698.6L573.7 698.6L575.3 698.2L576.9 698.0L578.6 698.1L580.2 698.3L581.8 698.5L583.4 699.2L585.1 699.6L586.7 700.4L588.3 700.3L589.9 700.6L591.6 700.4L593.2 700.4L594.8 700.6L596.4 701.0L598.1 700.9L599.7 701.1L601.3 701.4L602.9 701.5L604.6 701.4L606.2 701.5L607.8 701.8L609.4 701.7L611.1 701.7L612.7 701.8L614.3 702.1L615.9 702.3L617.6 702.7L619.2 703.4L620.8 703.8L622.4 704.4L624.1 704.6L625.7 705.3L627.3 705.2L628.9 705.7L630.6 705.8L632.2 706.2L633.8 706.5L635.4 707.4L637.0 707.8L638.7 708.2L640.3 708.5L641.9 708.9L643.5 709.1L645.2 709.8L646.8 710.6L648.4 711.1L650.0 712.0L651.7 713.1L653.3 713.5L654.9 714.3L656.5 715.2L658.2 716.1L659.8 716.5L661.4 717.4L663.0 717.7L664.7 718.2L666.3 718.2L667.9 718.8L669.5 719.0L671.2 720.3L672.8 721.3L674.4 722.3L676.0 723.3L677.7 724.3L679.3 724.6L680.9 725.4L682.5 726.2L684.2 727.1L685.8 728.3L687.4 729.5L689.0 730.7L690.7 731.8L692.3 732.7L693.9 733.3L695.5 734.2L697.2 735.1L698.8 736.0L700.4 736.9L702.0 737.9L703.6 738.8L705.3 739.4L706.9 740.2L708.5 740.7L710.1 741.7L711.8 742.2L713.4 743.3L715.0 744.0L716.6 744.9L718.3 745.7L719.9 746.6L721.5 747.3L723.1 748.3L724.8 749.1L726.4 749.9L728.0 750.9L729.6 751.6L731.3 752.4L732.9 753.2L734.5 753.9L736.1 754.3L737.8 755.0L739.4 755.5L741.0 756.1L742.6 756.7L744.3 757.5L745.9 758.1L747.5 758.7L749.1 759.2L750.8 759.6L752.4 759.9L754.0 760.4L755.6 761.1L757.3 761.6L758.9 762.3L760.5 762.8L762.1 763.4L763.8 763.9L765.4 764.3L767.0 764.7L768.6 765.2L770.2 765.6L771.9 766.1L773.5 766.7L775.1 767.3L776.7 767.7L778.4 768.0L780.0 768.3L781.6 768.6L783.2 768.9L784.9 769.3L786.5 769.6L788.1 769.9L789.7 770.3L791.4 770.5L793.0 770.9L794.6 771.2L796.2 771.5L797.9 771.8L799.5 772.2L801.1 772.3L802.7 772.5L804.4 772.7L806.0 772.9L807.6 773.1L809.2 773.4L810.9 773.8L812.5 774.0L814.1 774.1L815.7 774.5L817.4 774.6L819.0 774.7L820.6 774.8L822.2 774.9L823.9 775.0L825.5 775.1L827.1 775.2L828.7 775.4L830.3 775.5L832.0 775.6L833.6 775.7L835.2 775.7L836.8 775.8L838.5 775.8L840.1 775.9L841.7 776.0L843.3 776.0L845.0 776.2L846.6 776.3L848.2 776.3L849.8 776.5L851.5 776.6L853.1 776.7L854.7 776.8L856.3 776.7L858.0 776.7L859.6 776.7L861.2 776.7L862.8 776.7L864.5 776.7L866.1 776.6L867.7 776.6L869.3 776.6L871.0 776.6L872.6 776.7L874.2 776.7L875.8 776.7L877.5 776.7L879.1 776.6L880.7 776.6L882.3 776.6L884.0 776.6L885.6 776.6L887.2 776.6L888.8 776.6L890.5 776.5L892.1 776.5L893.7 776.4L895.3 776.4L896.9 776.4L898.6 776.4L900.2 776.5L901.8 776.5L903.4 776.4L905.1 776.4L906.7 776.4L908.3 776.3L909.9 776.4L911.6 776.4L913.2 776.3L914.8 776.4L916.4 776.3L918.1 776.3L919.7 776.3L921.3 776.3L922.9 776.2L924.6 776.2L926.2 776.2L927.8 776.2L929.4 776.2L931.1 776.2L932.7 776.2L934.3 776.3L935.9 776.3L937.6 776.3L939.2 776.4L940.8 776.4L942.4 776.4L944.1 776.3L945.7 776.3L947.3 776.3L948.9 776.4L950.6 776.4L952.2 776.4L953.8 776.4L955.4 776.4L957.1 776.3" stroke="#14c88a" stroke-width="4.4"/>
</g>
<text x="91.5" y="787.5" font-size="28.3" fill="#0d0d0d" text-anchor="end" font-weight="normal">0</text>
<text x="91.5" y="745.6" font-size="28.3" fill="#0d0d0d" text-anchor="end" font-weight="normal">5</text>
<text x="91.5" y="703.6" font-size="28.3" fill="#0d0d0d" text-anchor="end" font-weight="normal">10</text>
<text x="91.5" y="661.7" font-size="28.3" fill="#0d0d0d" text-anchor="end" font-weight="normal">15</text>
<text x="91.5" y="619.8" font-size="28.3" fill="#0d0d0d" text-anchor="end" font-weight="normal">20</text>
<text x="91.5" y="577.8" font-size="28.3" fill="#0d0d0d" text-anchor="end" font-weight="normal">25</text>
<text x="91.5" y="535.9" font-size="28.3" fill="#0d0d0d" text-anchor="end" font-weight="normal">30</text>
<text x="91.5" y="493.9" font-size="28.3" fill="#0d0d0d" text-anchor="end" font-weight="normal">35</text>
<text x="91.5" y="452.0" font-size="28.3" fill="#0d0d0d" text-anchor="end" font-weight="normal">40</text>
<text x="114.0" y="821.8" font-size="28.3" fill="#0d0d0d" text-anchor="middle" font-weight="normal">0.0</text>
<text x="211.3" y="821.8" font-size="28.3" fill="#0d0d0d" text-anchor="middle" font-weight="normal">0.5</text>
<text x="308.7" y="821.8" font-size="28.3" fill="#0d0d0d" text-anchor="middle" font-weight="normal">1.0</text>
<text x="406.0" y="821.8" font-size="28.3" fill="#0d0d0d" text-anchor="middle" font-weight="normal">1.5</text>
<text x="503.4" y="821.8" font-size="28.3" fill="#0d0d0d" text-anchor="middle" font-weight="normal">2.0</text>
<text x="600.8" y="821.8" font-size="28.3" fill="#0d0d0d" text-anchor="middle" font-weight="normal">2.5</text>
<text x="698.1" y="821.8" font-size="28.3" fill="#0d0d0d" text-anchor="middle" font-weight="normal">3.0</text>
<text x="795.4" y="821.8" font-size="28.3" fill="#0d0d0d" text-anchor="middle" font-weight="normal">3.5</text>
<text x="892.8" y="821.8" font-size="28.3" fill="#0d0d0d" text-anchor="middle" font-weight="normal">4.0</text>
<text x="118.8" y="477.8" font-size="33.5" fill="#0d0d0d" text-anchor="start" font-weight="normal">(b)</text>
<text x="122.3" y="512.6" font-size="25.1" fill="#e61e28" text-anchor="start" font-weight="normal">YSZ side</text>
<text x="945.2" y="515.6" font-size="25.1" fill="#e61e28" text-anchor="end" font-weight="normal">GDC side</text>
<text transform="translate(28.3 726.2) rotate(-90)" font-size="30.9" fill="#0d0d0d">Composition / at.%</text>
<rect x="133" y="593" width="235.5" height="108.8" fill="#fff" stroke="#1c1c1c" stroke-width="1.6"/>
<line x1="137.4" y1="613.2" x2="199.8" y2="613.2" stroke="#ec1c24" stroke-width="3.0"/>
<text x="208.0" y="622.5" font-size="27.3" fill="#0d0d0d" text-anchor="start" font-weight="normal">Zr</text>
<line x1="137.4" y1="647.5" x2="199.8" y2="647.5" stroke="#1212e8" stroke-width="3.0"/>
<text x="208.0" y="656.8" font-size="27.3" fill="#0d0d0d" text-anchor="start" font-weight="normal">Y</text>
<line x1="137.4" y1="682.0" x2="199.8" y2="682.0" stroke="#14c88a" stroke-width="4.2"/>
<text x="208.0" y="691.3" font-size="27.3" fill="#0d0d0d" text-anchor="start" font-weight="normal">Sr</text>
<line x1="258.4" y1="613.2" x2="320.3" y2="613.2" stroke="#12780f" stroke-width="3.0"/>
<text x="329.0" y="622.5" font-size="27.3" fill="#0d0d0d" text-anchor="start" font-weight="normal">Ce</text>
<line x1="250.4" y1="647.5" x2="312.8" y2="647.5" stroke="#f01fe4" stroke-width="3.0"/>
<text x="320.8" y="656.8" font-size="27.3" fill="#0d0d0d" text-anchor="start" font-weight="normal">Gd</text>
<rect x="114.0" y="844.3" width="843.2" height="335.7" fill="none" stroke="#0d0d0d" stroke-width="2.5"/>
<path d="M114.0 1180.0v12.0M114.0 844.3v12.0M133.5 1180.0v6.2M133.5 844.3v6.2M152.9 1180.0v6.2M152.9 844.3v6.2M172.4 1180.0v6.2M172.4 844.3v6.2M191.9 1180.0v6.2M191.9 844.3v6.2M211.3 1180.0v12.0M211.3 844.3v12.0M230.8 1180.0v6.2M230.8 844.3v6.2M250.3 1180.0v6.2M250.3 844.3v6.2M269.8 1180.0v6.2M269.8 844.3v6.2M289.2 1180.0v6.2M289.2 844.3v6.2M308.7 1180.0v12.0M308.7 844.3v12.0M328.2 1180.0v6.2M328.2 844.3v6.2M347.6 1180.0v6.2M347.6 844.3v6.2M367.1 1180.0v6.2M367.1 844.3v6.2M386.6 1180.0v6.2M386.6 844.3v6.2M406.0 1180.0v12.0M406.0 844.3v12.0M425.5 1180.0v6.2M425.5 844.3v6.2M445.0 1180.0v6.2M445.0 844.3v6.2M464.5 1180.0v6.2M464.5 844.3v6.2M483.9 1180.0v6.2M483.9 844.3v6.2M503.4 1180.0v12.0M503.4 844.3v12.0M522.9 1180.0v6.2M522.9 844.3v6.2M542.3 1180.0v6.2M542.3 844.3v6.2M561.8 1180.0v6.2M561.8 844.3v6.2M581.3 1180.0v6.2M581.3 844.3v6.2M600.8 1180.0v12.0M600.8 844.3v12.0M620.2 1180.0v6.2M620.2 844.3v6.2M639.7 1180.0v6.2M639.7 844.3v6.2M659.2 1180.0v6.2M659.2 844.3v6.2M678.6 1180.0v6.2M678.6 844.3v6.2M698.1 1180.0v12.0M698.1 844.3v12.0M717.6 1180.0v6.2M717.6 844.3v6.2M737.0 1180.0v6.2M737.0 844.3v6.2M756.5 1180.0v6.2M756.5 844.3v6.2M776.0 1180.0v6.2M776.0 844.3v6.2M795.4 1180.0v12.0M795.4 844.3v12.0M814.9 1180.0v6.2M814.9 844.3v6.2M834.4 1180.0v6.2M834.4 844.3v6.2M853.9 1180.0v6.2M853.9 844.3v6.2M873.3 1180.0v6.2M873.3 844.3v6.2M892.8 1180.0v12.0M892.8 844.3v12.0M912.3 1180.0v6.2M912.3 844.3v6.2M931.7 1180.0v6.2M931.7 844.3v6.2M951.2 1180.0v6.2M951.2 844.3v6.2M114.0 1168.8h-12.0M957.2 1168.8h-12.0M114.0 1114.3h-12.0M957.2 1114.3h-12.0M114.0 1059.8h-12.0M957.2 1059.8h-12.0M114.0 1005.4h-12.0M957.2 1005.4h-12.0M114.0 951.0h-12.0M957.2 951.0h-12.0M114.0 896.5h-12.0M957.2 896.5h-12.0M114.0 1157.9h-6.2M957.2 1157.9h-6.2M114.0 1147.0h-6.2M957.2 1147.0h-6.2M114.0 1136.1h-6.2M957.2 1136.1h-6.2M114.0 1125.2h-6.2M957.2 1125.2h-6.2M114.0 1103.4h-6.2M957.2 1103.4h-6.2M114.0 1092.5h-6.2M957.2 1092.5h-6.2M114.0 1081.6h-6.2M957.2 1081.6h-6.2M114.0 1070.7h-6.2M957.2 1070.7h-6.2M114.0 1049.0h-6.2M957.2 1049.0h-6.2M114.0 1038.1h-6.2M957.2 1038.1h-6.2M114.0 1027.2h-6.2M957.2 1027.2h-6.2M114.0 1016.3h-6.2M957.2 1016.3h-6.2M114.0 994.5h-6.2M957.2 994.5h-6.2M114.0 983.6h-6.2M957.2 983.6h-6.2M114.0 972.7h-6.2M957.2 972.7h-6.2M114.0 961.8h-6.2M957.2 961.8h-6.2M114.0 940.1h-6.2M957.2 940.1h-6.2M114.0 929.2h-6.2M957.2 929.2h-6.2M114.0 918.3h-6.2M957.2 918.3h-6.2M114.0 907.4h-6.2M957.2 907.4h-6.2M114.0 885.6h-6.2M957.2 885.6h-6.2M114.0 874.7h-6.2M957.2 874.7h-6.2M114.0 863.8h-6.2M957.2 863.8h-6.2M114.0 852.9h-6.2M957.2 852.9h-6.2" fill="none" stroke="#0d0d0d" stroke-width="2.5"/>
<text x="91.5" y="906.5" font-size="28.3" fill="#0d0d0d" text-anchor="end" font-weight="normal">-1.0</text>
<text x="91.5" y="961.0" font-size="28.3" fill="#0d0d0d" text-anchor="end" font-weight="normal">-1.5</text>
<text x="91.5" y="1015.4" font-size="28.3" fill="#0d0d0d" text-anchor="end" font-weight="normal">-2.0</text>
<text x="91.5" y="1069.8" font-size="28.3" fill="#0d0d0d" text-anchor="end" font-weight="normal">-2.5</text>
<text x="91.5" y="1124.3" font-size="28.3" fill="#0d0d0d" text-anchor="end" font-weight="normal">-3.0</text>
<text x="91.5" y="1178.8" font-size="28.3" fill="#0d0d0d" text-anchor="end" font-weight="normal">-3.5</text>
<text x="114.0" y="1223.7" font-size="28.3" fill="#0d0d0d" text-anchor="middle" font-weight="normal">0.0</text>
<text x="211.3" y="1223.7" font-size="28.3" fill="#0d0d0d" text-anchor="middle" font-weight="normal">0.5</text>
<text x="308.7" y="1223.7" font-size="28.3" fill="#0d0d0d" text-anchor="middle" font-weight="normal">1.0</text>
<text x="406.0" y="1223.7" font-size="28.3" fill="#0d0d0d" text-anchor="middle" font-weight="normal">1.5</text>
<text x="503.4" y="1223.7" font-size="28.3" fill="#0d0d0d" text-anchor="middle" font-weight="normal">2.0</text>
<text x="600.8" y="1223.7" font-size="28.3" fill="#0d0d0d" text-anchor="middle" font-weight="normal">2.5</text>
<text x="698.1" y="1223.7" font-size="28.3" fill="#0d0d0d" text-anchor="middle" font-weight="normal">3.0</text>
<text x="795.4" y="1223.7" font-size="28.3" fill="#0d0d0d" text-anchor="middle" font-weight="normal">3.5</text>
<text x="892.8" y="1223.7" font-size="28.3" fill="#0d0d0d" text-anchor="middle" font-weight="normal">4.0</text>
<text x="535.6" y="1272.1" font-size="31.3" fill="#0d0d0d" text-anchor="middle" font-weight="normal">Distance from YSZ side / μm</text>
<text transform="translate(28.2 1177.2) rotate(-90)" font-size="31.2" fill="#0d0d0d">log [<tspan font-style="italic">σ</tspan> / S cm<tspan font-size="18.5" dy="-11">-1</tspan><tspan dy="11">] @800°C</tspan></text>
<text x="127.8" y="1155.0" font-size="33.5" fill="#0d0d0d" text-anchor="start" font-weight="normal">(c)</text>
<text x="121.5" y="920.8" font-size="28.3" fill="#0d0d0d" text-anchor="start" font-weight="normal">YSZ</text>
<text x="937.5" y="904.4" font-size="28.3" fill="#0d0d0d" text-anchor="end" font-weight="normal">GDC</text>
<line x1="114.6" y1="930.9" x2="367.7" y2="930.9" stroke="#0d0d0d" stroke-width="3.2" stroke-linecap="round" stroke-dasharray="0.01 18.95"/>
<line x1="367.7" y1="930.9" x2="415.2" y2="973.5" stroke="#0d0d0d" stroke-width="3.2" stroke-linecap="round" stroke-dasharray="0.01 18.95"/>
<line x1="415.2" y1="973.5" x2="467.5" y2="1051.0" stroke="#0d0d0d" stroke-width="3.2" stroke-linecap="round" stroke-dasharray="0.01 18.95"/>
<line x1="467.5" y1="1051.0" x2="589.6" y2="1151.2" stroke="#0d0d0d" stroke-width="3.2" stroke-linecap="round" stroke-dasharray="0.01 18.95"/>
<line x1="589.6" y1="1151.2" x2="642.2" y2="1143.7" stroke="#0d0d0d" stroke-width="3.2" stroke-linecap="round" stroke-dasharray="0.01 18.95"/>
<line x1="642.2" y1="1143.7" x2="789.4" y2="1036.4" stroke="#0d0d0d" stroke-width="3.2" stroke-linecap="round" stroke-dasharray="0.01 18.95"/>
<line x1="789.4" y1="1036.4" x2="889.4" y2="914.6" stroke="#0d0d0d" stroke-width="3.2" stroke-linecap="round" stroke-dasharray="0.01 18.95"/>
<line x1="889.4" y1="914.6" x2="957.2" y2="914.6" stroke="#0d0d0d" stroke-width="3.2" stroke-linecap="round" stroke-dasharray="0.01 18.95"/>
<line x1="415.2" y1="973.5" x2="467.5" y2="1051.0" stroke="#222" stroke-width="1.3" stroke-dasharray="1.3 3.45"/>
<line x1="467.5" y1="1051.0" x2="589.6" y2="1151.2" stroke="#222" stroke-width="1.3" stroke-dasharray="1.3 3.45"/>
<line x1="589.6" y1="1151.2" x2="642.2" y2="1143.7" stroke="#222" stroke-width="1.3" stroke-dasharray="1.3 3.45"/>
<line x1="642.2" y1="1143.7" x2="789.4" y2="1036.4" stroke="#222" stroke-width="1.3" stroke-dasharray="1.3 3.45"/>
<circle cx="415.2" cy="973.5" r="10.5" fill="#000"/>
<circle cx="467.5" cy="1051.0" r="10.5" fill="#000"/>
<circle cx="589.6" cy="1151.2" r="10.5" fill="#000"/>
<circle cx="642.2" cy="1143.7" r="10.5" fill="#000"/>
<circle cx="789.4" cy="1036.4" r="10.5" fill="#000"/>
</svg>
</body></html>
